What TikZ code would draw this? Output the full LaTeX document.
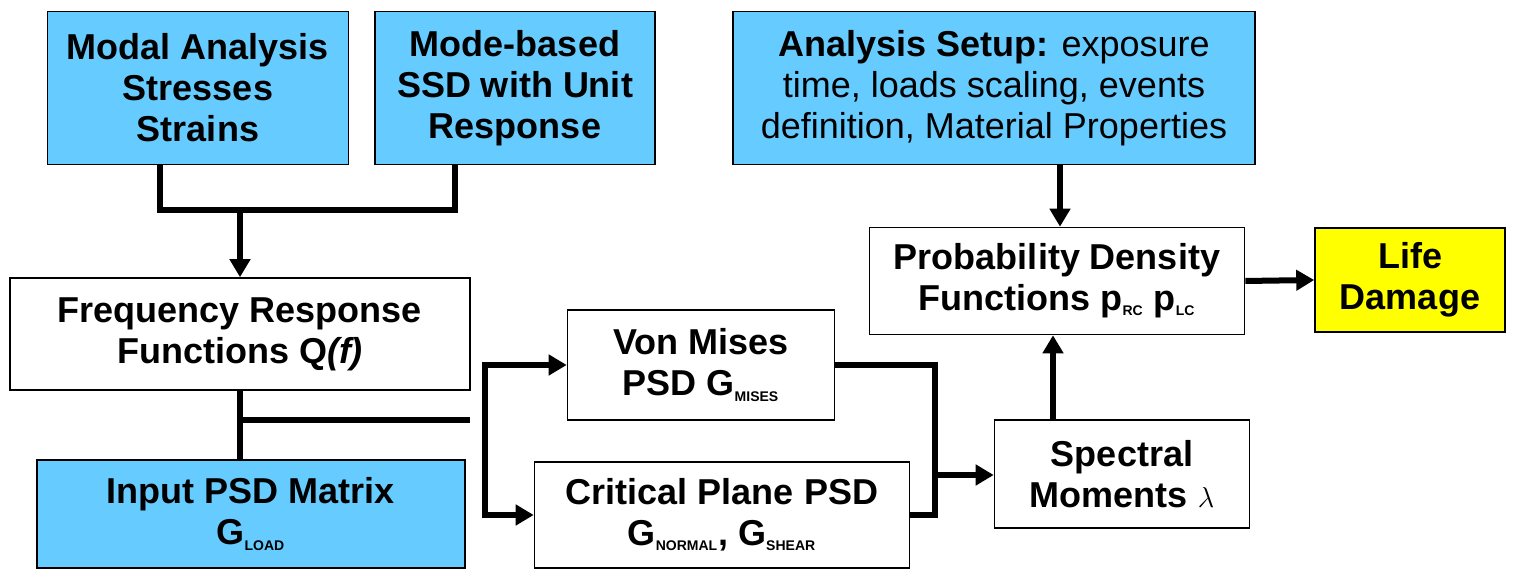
\documentclass[tikz,border=0pt]{standalone}
\usepackage{fontspec}
\setmainfont{Liberation Sans}
\usetikzlibrary{arrows.meta}
\definecolor{bl}{HTML}{66CCFF}
\definecolor{yl}{HTML}{FFFF00}
\begin{document}
\begin{tikzpicture}[x=0.5pt,y=-0.5pt,
 box/.style={draw,line width=0.8pt,align=center,font=\fontsize{18}{20.5}\selectfont\bfseries,inner sep=0pt},
 blue/.style={box,fill=bl},
 ln/.style={line width=3pt},
 ar/.style={ln,-{Triangle[length=9pt,width=10pt]}}]
\useasboundingbox (0,0) rectangle (1516,581);
\node[blue,minimum width=301*0.5pt,minimum height=153*0.5pt] (A) at (198,88) {Modal Analysis\\Stresses\\Strains};
\node[blue,minimum width=280*0.5pt,minimum height=153*0.5pt] (B) at (515,88) {Mode-based\\SSD with Unit\\Response};
\node[blue,minimum width=522*0.5pt,minimum height=153*0.5pt] (C) at (994,88) {Analysis Setup: \mdseries exposure\\\mdseries time, loads scaling, events\\\mdseries definition, Material Properties};
\node[box,fill=white,minimum width=460*0.5pt,minimum height=112*0.5pt] (D) at (240,334) {Frequency Response\\Functions Q\textit{(f)}};
\node[blue,minimum width=428*0.5pt,minimum height=108*0.5pt] (E) at (251,514) {Input PSD Matrix\\G\textsubscript{\scriptsize LOAD}};
\node[box,fill=white,minimum width=267*0.5pt,minimum height=110*0.5pt] (F) at (701,365) {Von Mises\\PSD G\textsubscript{\scriptsize MISES}};
\node[box,fill=white,minimum width=375*0.5pt,minimum height=106*0.5pt] (G) at (722,515) {Critical Plane PSD\\G\textsubscript{\scriptsize NORMAL}, G\textsubscript{\scriptsize SHEAR}};
\node[box,fill=white,minimum width=255*0.5pt,minimum height=108*0.5pt] (H) at (1122,474) {Spectral\\Moments \Large$\lambda$};
\node[box,fill=white,minimum width=375*0.5pt,minimum height=107*0.5pt] (I) at (1057,281) {Probability Density\\Functions p\textsubscript{\scriptsize RC} p\textsubscript{\scriptsize LC}};
\node[box,fill=yl,minimum width=190*0.5pt,minimum height=104*0.5pt] (J) at (1410,280) {Life\\Damage};
\coordinate (j1) at (240,210);
\draw[ln] (A.south -| 160,0) |- (j1) -| (B.south -| 455,0);
\draw[ar] (j1) -- (D.north -| j1);
\draw[ln] (D.south -| 240,0) -- (E.north -| 240,0);
\coordinate (j2) at (240,420);
\draw[ln] (j2) -- (470,420);
\draw[ar] (485,420) |- (F.west);
\draw[ar] (485,420) |- (G.west);
\coordinate (j3) at (935,475);
\draw[ln] (F.east) -| (j3);
\draw[ln] (G.east) -| (j3);
\draw[ar] (j3) -- (H.west |- j3);
\draw[ar] (H.north -| 1053,0) -- (I.south -| 1053,0);
\draw[ar] (C.south -| 1060,0) -- (I.north -| 1060,0);
\draw[ar] (I.east) -- (J.west);
\end{tikzpicture}
\end{document}
